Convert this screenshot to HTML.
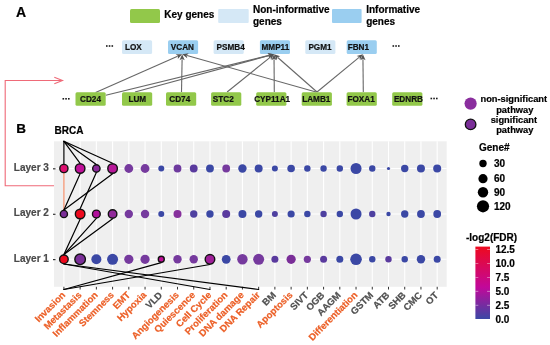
<!DOCTYPE html><html><head><meta charset="utf-8"><style>html,body{margin:0;padding:0;background:#fff;width:550px;height:345px;overflow:hidden}svg{display:block;will-change:transform}text{font-family:"Liberation Sans",sans-serif;font-weight:bold;stroke-width:0.2px}</style></head><body>
<svg width="550" height="345" viewBox="0 0 550 345">
<rect x="0" y="0" width="550" height="345" fill="#fff"/>
<text x="16" y="17" font-size="14" fill="#000" stroke="#000">A</text>
<rect x="130" y="9" width="30" height="14" rx="1.5" fill="#92C84A"/>
<text x="164.3" y="17.6" font-size="10" fill="#000" stroke="#000">Key genes</text>
<rect x="218.2" y="9" width="30.5" height="14" rx="1" fill="#D5E8F6"/>
<text x="253" y="13.1" font-size="10" fill="#000" stroke="#000">Non-informative</text>
<text x="253" y="24.8" font-size="10" fill="#000" stroke="#000">genes</text>
<rect x="332" y="9" width="29.6" height="14" rx="1" fill="#9ACEF0"/>
<text x="366.2" y="13.1" font-size="10" fill="#000" stroke="#000">Informative</text>
<text x="366.2" y="24.8" font-size="10" fill="#000" stroke="#000">genes</text>
<rect x="122" y="40.2" width="30.1" height="13.7" rx="1.5" fill="#D5E8F6"/>
<text x="125.00" y="49.7" font-size="8.2" fill="#111" stroke="#111">LOX</text>
<rect x="168" y="40.2" width="30.1" height="13.7" rx="1.5" fill="#9ACEF0"/>
<text x="170.80" y="49.7" font-size="8.2" fill="#111" stroke="#111">VCAN</text>
<rect x="213.6" y="40.2" width="30.1" height="13.7" rx="1.5" fill="#D5E8F6"/>
<text x="216.50" y="49.7" font-size="8.2" fill="#111" stroke="#111">PSMB4</text>
<rect x="259.9" y="40.2" width="30.1" height="13.7" rx="1.5" fill="#9ACEF0"/>
<text x="261.50" y="49.7" font-size="8.2" fill="#111" stroke="#111">MMP11</text>
<rect x="305.3" y="40.2" width="30.1" height="13.7" rx="1.5" fill="#D5E8F6"/>
<text x="308.40" y="49.7" font-size="8.2" fill="#111" stroke="#111">PGM1</text>
<rect x="346.7" y="40.2" width="30.1" height="13.7" rx="1.5" fill="#9ACEF0"/>
<text x="347.70" y="49.7" font-size="8.2" fill="#111" stroke="#111">FBN1</text>
<rect x="106.00" y="45.2" width="1.6" height="1.6" fill="#1a1a1a"/>
<rect x="108.75" y="45.2" width="1.6" height="1.6" fill="#1a1a1a"/>
<rect x="111.50" y="45.2" width="1.6" height="1.6" fill="#1a1a1a"/>
<rect x="392.50" y="45.2" width="1.6" height="1.6" fill="#1a1a1a"/>
<rect x="395.25" y="45.2" width="1.6" height="1.6" fill="#1a1a1a"/>
<rect x="398.00" y="45.2" width="1.6" height="1.6" fill="#1a1a1a"/>
<line x1="95.6" y1="92.4" x2="177.63" y2="56.22" stroke="#676767" stroke-width="1.1"/>
<path d="M182.20,54.20 L177.76,59.00 L178.08,56.02 L175.66,54.24 Z" fill="#555"/>
<line x1="105.8" y1="95.2" x2="269.14" y2="55.38" stroke="#676767" stroke-width="1.1"/>
<path d="M274.00,54.20 L268.79,58.15 L269.63,55.27 L267.55,53.09 Z" fill="#555"/>
<line x1="135" y1="92" x2="269.18" y2="55.51" stroke="#676767" stroke-width="1.1"/>
<path d="M274.00,54.20 L268.89,58.28 L269.66,55.38 L267.53,53.27 Z" fill="#555"/>
<line x1="181.5" y1="92" x2="182.11" y2="59.20" stroke="#676767" stroke-width="1.1"/>
<path d="M182.20,54.20 L184.69,60.25 L182.12,58.70 L179.49,60.15 Z" fill="#555"/>
<line x1="227.1" y1="92" x2="270.11" y2="57.34" stroke="#676767" stroke-width="1.1"/>
<path d="M274.00,54.20 L270.96,59.99 L270.50,57.02 L267.70,55.94 Z" fill="#555"/>
<line x1="274.3" y1="92" x2="274.04" y2="59.20" stroke="#676767" stroke-width="1.1"/>
<path d="M274.00,54.20 L276.65,60.18 L274.04,58.70 L271.45,60.22 Z" fill="#555"/>
<line x1="316" y1="92" x2="187.01" y2="55.56" stroke="#676767" stroke-width="1.1"/>
<path d="M182.20,54.20 L188.68,53.33 L186.53,55.42 L187.27,58.33 Z" fill="#555"/>
<line x1="317" y1="92" x2="277.76" y2="57.50" stroke="#676767" stroke-width="1.1"/>
<path d="M274.00,54.20 L280.22,56.21 L277.38,57.17 L276.79,60.11 Z" fill="#555"/>
<line x1="317" y1="92" x2="359.04" y2="57.38" stroke="#676767" stroke-width="1.1"/>
<path d="M362.90,54.20 L359.92,60.02 L359.43,57.06 L356.62,56.01 Z" fill="#555"/>
<line x1="363.3" y1="92" x2="362.95" y2="59.20" stroke="#676767" stroke-width="1.1"/>
<path d="M362.90,54.20 L365.56,60.17 L362.95,58.70 L360.36,60.23 Z" fill="#555"/>
<rect x="75.5" y="92.2" width="30.2" height="13.6" rx="1.5" fill="#92C84A"/>
<text x="80.00" y="101.8" font-size="8.2" fill="#111" stroke="#111">CD24</text>
<rect x="122" y="92.2" width="30.2" height="13.6" rx="1.5" fill="#92C84A"/>
<text x="128.40" y="101.8" font-size="8.2" fill="#111" stroke="#111">LUM</text>
<rect x="166" y="92.2" width="30.2" height="13.6" rx="1.5" fill="#92C84A"/>
<text x="169.30" y="101.8" font-size="8.2" fill="#111" stroke="#111">CD74</text>
<rect x="211.1" y="92.2" width="30.2" height="13.6" rx="1.5" fill="#92C84A"/>
<text x="212.80" y="101.8" font-size="8.2" fill="#111" stroke="#111">STC2</text>
<rect x="256.2" y="92.2" width="30.2" height="13.6" rx="1.5" fill="#92C84A"/>
<text x="254.20" y="101.8" font-size="8.2" fill="#111" stroke="#111">CYP11A1</text>
<rect x="301.7" y="92.2" width="30.2" height="13.6" rx="1.5" fill="#92C84A"/>
<text x="302.20" y="101.8" font-size="8.2" fill="#111" stroke="#111">LAMB1</text>
<rect x="346.6" y="92.2" width="30.2" height="13.6" rx="1.5" fill="#92C84A"/>
<text x="347.50" y="101.8" font-size="8.2" fill="#111" stroke="#111">FOXA1</text>
<rect x="392.2" y="92.2" width="30.2" height="13.6" rx="1.5" fill="#92C84A"/>
<text x="393.90" y="101.8" font-size="8.2" fill="#111" stroke="#111">EDNRB</text>
<rect x="62.50" y="98.0" width="1.6" height="1.6" fill="#1a1a1a"/>
<rect x="65.25" y="98.0" width="1.6" height="1.6" fill="#1a1a1a"/>
<rect x="68.00" y="98.0" width="1.6" height="1.6" fill="#1a1a1a"/>
<rect x="430.50" y="97.7" width="1.6" height="1.6" fill="#1a1a1a"/>
<rect x="433.25" y="97.7" width="1.6" height="1.6" fill="#1a1a1a"/>
<rect x="436.00" y="97.7" width="1.6" height="1.6" fill="#1a1a1a"/>
<path d="M62.5,80.5 L5.2,80.5 L5.2,185.8 L64,185.8" fill="none" stroke="#EF6A78" stroke-width="1.1"/>
<path d="M54.3,77.3 L62.5,80.5 L54.3,83.7" fill="none" stroke="#EF6A78" stroke-width="1.1"/>
<text x="16.3" y="133" font-size="13.5" fill="#000" stroke="#000">B</text>
<text x="54.5" y="133.5" font-size="10" fill="#000" stroke="#000">BRCA</text>
<rect x="54.0" y="141.3" width="392.7" height="145.5" fill="#EFEFEF"/>
<line x1="63.90" y1="141.3" x2="63.90" y2="286.8" stroke="#fff" stroke-width="1.1"/>
<line x1="80.13" y1="141.3" x2="80.13" y2="286.8" stroke="#fff" stroke-width="1.1"/>
<line x1="96.36" y1="141.3" x2="96.36" y2="286.8" stroke="#fff" stroke-width="1.1"/>
<line x1="112.59" y1="141.3" x2="112.59" y2="286.8" stroke="#fff" stroke-width="1.1"/>
<line x1="128.82" y1="141.3" x2="128.82" y2="286.8" stroke="#fff" stroke-width="1.1"/>
<line x1="145.05" y1="141.3" x2="145.05" y2="286.8" stroke="#fff" stroke-width="1.1"/>
<line x1="161.28" y1="141.3" x2="161.28" y2="286.8" stroke="#fff" stroke-width="1.1"/>
<line x1="177.51" y1="141.3" x2="177.51" y2="286.8" stroke="#fff" stroke-width="1.1"/>
<line x1="193.74" y1="141.3" x2="193.74" y2="286.8" stroke="#fff" stroke-width="1.1"/>
<line x1="209.97" y1="141.3" x2="209.97" y2="286.8" stroke="#fff" stroke-width="1.1"/>
<line x1="226.20" y1="141.3" x2="226.20" y2="286.8" stroke="#fff" stroke-width="1.1"/>
<line x1="242.43" y1="141.3" x2="242.43" y2="286.8" stroke="#fff" stroke-width="1.1"/>
<line x1="258.66" y1="141.3" x2="258.66" y2="286.8" stroke="#fff" stroke-width="1.1"/>
<line x1="274.89" y1="141.3" x2="274.89" y2="286.8" stroke="#fff" stroke-width="1.1"/>
<line x1="291.12" y1="141.3" x2="291.12" y2="286.8" stroke="#fff" stroke-width="1.1"/>
<line x1="307.35" y1="141.3" x2="307.35" y2="286.8" stroke="#fff" stroke-width="1.1"/>
<line x1="323.58" y1="141.3" x2="323.58" y2="286.8" stroke="#fff" stroke-width="1.1"/>
<line x1="339.81" y1="141.3" x2="339.81" y2="286.8" stroke="#fff" stroke-width="1.1"/>
<line x1="356.04" y1="141.3" x2="356.04" y2="286.8" stroke="#fff" stroke-width="1.1"/>
<line x1="372.27" y1="141.3" x2="372.27" y2="286.8" stroke="#fff" stroke-width="1.1"/>
<line x1="388.50" y1="141.3" x2="388.50" y2="286.8" stroke="#fff" stroke-width="1.1"/>
<line x1="404.73" y1="141.3" x2="404.73" y2="286.8" stroke="#fff" stroke-width="1.1"/>
<line x1="420.96" y1="141.3" x2="420.96" y2="286.8" stroke="#fff" stroke-width="1.1"/>
<line x1="437.19" y1="141.3" x2="437.19" y2="286.8" stroke="#fff" stroke-width="1.1"/>
<line x1="54.0" y1="168.5" x2="446.7" y2="168.5" stroke="#fff" stroke-width="1.1"/>
<line x1="54.0" y1="214.0" x2="446.7" y2="214.0" stroke="#fff" stroke-width="1.1"/>
<line x1="54.0" y1="259.3" x2="446.7" y2="259.3" stroke="#fff" stroke-width="1.1"/>
<text x="48.9" y="170.9" font-size="10" text-anchor="end" fill="#4A4A4A" stroke="#4A4A4A" stroke-width="0.1">Layer 3</text>
<line x1="53" y1="168.8" x2="55.5" y2="168.8" stroke="#333" stroke-width="1.2"/>
<text x="48.9" y="216.4" font-size="10" text-anchor="end" fill="#4A4A4A" stroke="#4A4A4A" stroke-width="0.1">Layer 2</text>
<line x1="53" y1="214.3" x2="55.5" y2="214.3" stroke="#333" stroke-width="1.2"/>
<text x="48.9" y="261.7" font-size="10" text-anchor="end" fill="#4A4A4A" stroke="#4A4A4A" stroke-width="0.1">Layer 1</text>
<line x1="53" y1="259.6" x2="55.5" y2="259.6" stroke="#333" stroke-width="1.2"/>
<line x1="63.90" y1="286.8" x2="63.90" y2="289.5" stroke="#333" stroke-width="1"/>
<line x1="80.13" y1="286.8" x2="80.13" y2="289.5" stroke="#333" stroke-width="1"/>
<line x1="96.36" y1="286.8" x2="96.36" y2="289.5" stroke="#333" stroke-width="1"/>
<line x1="112.59" y1="286.8" x2="112.59" y2="289.5" stroke="#333" stroke-width="1"/>
<line x1="128.82" y1="286.8" x2="128.82" y2="289.5" stroke="#333" stroke-width="1"/>
<line x1="145.05" y1="286.8" x2="145.05" y2="289.5" stroke="#333" stroke-width="1"/>
<line x1="161.28" y1="286.8" x2="161.28" y2="289.5" stroke="#333" stroke-width="1"/>
<line x1="177.51" y1="286.8" x2="177.51" y2="289.5" stroke="#333" stroke-width="1"/>
<line x1="193.74" y1="286.8" x2="193.74" y2="289.5" stroke="#333" stroke-width="1"/>
<line x1="209.97" y1="286.8" x2="209.97" y2="289.5" stroke="#333" stroke-width="1"/>
<line x1="226.20" y1="286.8" x2="226.20" y2="289.5" stroke="#333" stroke-width="1"/>
<line x1="242.43" y1="286.8" x2="242.43" y2="289.5" stroke="#333" stroke-width="1"/>
<line x1="258.66" y1="286.8" x2="258.66" y2="289.5" stroke="#333" stroke-width="1"/>
<line x1="274.89" y1="286.8" x2="274.89" y2="289.5" stroke="#333" stroke-width="1"/>
<line x1="291.12" y1="286.8" x2="291.12" y2="289.5" stroke="#333" stroke-width="1"/>
<line x1="307.35" y1="286.8" x2="307.35" y2="289.5" stroke="#333" stroke-width="1"/>
<line x1="323.58" y1="286.8" x2="323.58" y2="289.5" stroke="#333" stroke-width="1"/>
<line x1="339.81" y1="286.8" x2="339.81" y2="289.5" stroke="#333" stroke-width="1"/>
<line x1="356.04" y1="286.8" x2="356.04" y2="289.5" stroke="#333" stroke-width="1"/>
<line x1="372.27" y1="286.8" x2="372.27" y2="289.5" stroke="#333" stroke-width="1"/>
<line x1="388.50" y1="286.8" x2="388.50" y2="289.5" stroke="#333" stroke-width="1"/>
<line x1="404.73" y1="286.8" x2="404.73" y2="289.5" stroke="#333" stroke-width="1"/>
<line x1="420.96" y1="286.8" x2="420.96" y2="289.5" stroke="#333" stroke-width="1"/>
<line x1="437.19" y1="286.8" x2="437.19" y2="289.5" stroke="#333" stroke-width="1"/>
<line x1="63.9" y1="168.5" x2="63.9" y2="214.0" stroke="#F39C7C" stroke-width="1.4"/>
<line x1="63.90" y1="141.30" x2="63.90" y2="164.00" stroke="#000" stroke-width="1.2" stroke-linecap="round"/>
<line x1="63.90" y1="141.30" x2="80.13" y2="163.30" stroke="#000" stroke-width="1.2" stroke-linecap="round"/>
<line x1="63.90" y1="141.30" x2="96.36" y2="164.40" stroke="#000" stroke-width="1.2" stroke-linecap="round"/>
<line x1="63.90" y1="141.30" x2="112.59" y2="163.30" stroke="#000" stroke-width="1.2" stroke-linecap="round"/>
<line x1="80.13" y1="173.70" x2="63.90" y2="210.00" stroke="#000" stroke-width="1.2" stroke-linecap="round"/>
<line x1="96.36" y1="172.60" x2="80.13" y2="208.80" stroke="#000" stroke-width="1.2" stroke-linecap="round"/>
<line x1="112.59" y1="173.70" x2="63.90" y2="210.00" stroke="#000" stroke-width="1.2" stroke-linecap="round"/>
<line x1="63.90" y1="254.60" x2="80.13" y2="219.20" stroke="#000" stroke-width="1.2" stroke-linecap="round"/>
<line x1="63.90" y1="254.60" x2="96.36" y2="218.30" stroke="#000" stroke-width="1.2" stroke-linecap="round"/>
<line x1="63.90" y1="254.60" x2="112.59" y2="218.70" stroke="#000" stroke-width="1.2" stroke-linecap="round"/>
<line x1="63.90" y1="264.00" x2="209.97" y2="289.50" stroke="#000" stroke-width="1.2" stroke-linecap="round"/>
<line x1="63.90" y1="264.00" x2="258.66" y2="289.50" stroke="#000" stroke-width="1.2" stroke-linecap="round"/>
<line x1="63.90" y1="289.50" x2="161.28" y2="262.70" stroke="#000" stroke-width="1.2" stroke-linecap="round"/>
<line x1="63.90" y1="289.50" x2="209.97" y2="264.50" stroke="#000" stroke-width="1.2" stroke-linecap="round"/>
<circle cx="63.90" cy="168.5" r="4.10" fill="#DD1070" stroke="#111" stroke-width="1.4"/>
<circle cx="80.13" cy="168.5" r="4.80" fill="#C0109A" stroke="#111" stroke-width="1.4"/>
<circle cx="96.36" cy="168.5" r="3.70" fill="#8A2A9A" stroke="#111" stroke-width="1.4"/>
<circle cx="112.59" cy="168.5" r="4.80" fill="#B8189A" stroke="#111" stroke-width="1.4"/>
<circle cx="128.82" cy="168.5" r="4.40" fill="#763A9E"/>
<circle cx="145.05" cy="168.5" r="4.40" fill="#763A9E"/>
<circle cx="161.28" cy="168.5" r="3.00" fill="#3B48A5"/>
<circle cx="177.51" cy="168.5" r="3.90" fill="#6E3A9E"/>
<circle cx="193.74" cy="168.5" r="3.90" fill="#5A3A9E"/>
<circle cx="209.97" cy="168.5" r="3.90" fill="#3B48A5"/>
<circle cx="226.20" cy="168.5" r="3.90" fill="#763A9E"/>
<circle cx="242.43" cy="168.5" r="4.20" fill="#3B48A5"/>
<circle cx="258.66" cy="168.5" r="4.00" fill="#3B48A5"/>
<circle cx="274.89" cy="168.5" r="3.00" fill="#3B48A5"/>
<circle cx="291.12" cy="168.5" r="3.80" fill="#3B48A5"/>
<circle cx="307.35" cy="168.5" r="3.20" fill="#3B48A5"/>
<circle cx="323.58" cy="168.5" r="3.20" fill="#3B48A5"/>
<circle cx="339.81" cy="168.5" r="3.20" fill="#3B48A5"/>
<circle cx="356.04" cy="168.5" r="5.50" fill="#3B48A5"/>
<circle cx="372.27" cy="168.5" r="3.20" fill="#3B48A5"/>
<circle cx="388.50" cy="168.5" r="1.60" fill="#3B48A5"/>
<circle cx="404.73" cy="168.5" r="3.70" fill="#3B48A5"/>
<circle cx="420.96" cy="168.5" r="4.00" fill="#3B48A5"/>
<circle cx="437.19" cy="168.5" r="4.00" fill="#3B48A5"/>
<circle cx="63.90" cy="214.0" r="3.60" fill="#7A2E98" stroke="#111" stroke-width="1.4"/>
<circle cx="80.13" cy="214.0" r="4.80" fill="#EE0A1E" stroke="#111" stroke-width="1.4"/>
<circle cx="96.36" cy="214.0" r="3.90" fill="#B0109A" stroke="#111" stroke-width="1.4"/>
<circle cx="112.59" cy="214.0" r="4.30" fill="#902A9A" stroke="#111" stroke-width="1.4"/>
<circle cx="128.82" cy="214.0" r="4.20" fill="#763A9E"/>
<circle cx="145.05" cy="214.0" r="4.20" fill="#763A9E"/>
<circle cx="161.28" cy="214.0" r="3.00" fill="#3B48A5"/>
<circle cx="177.51" cy="214.0" r="4.00" fill="#86309C"/>
<circle cx="193.74" cy="214.0" r="3.70" fill="#4E40A0"/>
<circle cx="209.97" cy="214.0" r="3.70" fill="#3B48A5"/>
<circle cx="226.20" cy="214.0" r="4.00" fill="#5A3A9E"/>
<circle cx="242.43" cy="214.0" r="4.00" fill="#3B48A5"/>
<circle cx="258.66" cy="214.0" r="3.70" fill="#3B48A5"/>
<circle cx="274.89" cy="214.0" r="3.00" fill="#4E40A0"/>
<circle cx="291.12" cy="214.0" r="3.60" fill="#3B48A5"/>
<circle cx="307.35" cy="214.0" r="3.20" fill="#3B48A5"/>
<circle cx="323.58" cy="214.0" r="3.20" fill="#4E40A0"/>
<circle cx="339.81" cy="214.0" r="3.20" fill="#3B48A5"/>
<circle cx="356.04" cy="214.0" r="5.50" fill="#3B48A5"/>
<circle cx="372.27" cy="214.0" r="3.20" fill="#4E40A0"/>
<circle cx="388.50" cy="214.0" r="2.20" fill="#3B48A5"/>
<circle cx="404.73" cy="214.0" r="3.70" fill="#3B48A5"/>
<circle cx="420.96" cy="214.0" r="3.90" fill="#3B48A5"/>
<circle cx="437.19" cy="214.0" r="3.90" fill="#3B48A5"/>
<circle cx="63.90" cy="259.3" r="4.30" fill="#EE0A1E" stroke="#111" stroke-width="1.4"/>
<circle cx="80.13" cy="259.3" r="5.30" fill="#7A2E98" stroke="#111" stroke-width="1.4"/>
<circle cx="96.36" cy="259.3" r="5.00" fill="#3B48A5"/>
<circle cx="112.59" cy="259.3" r="5.50" fill="#3B48A5"/>
<circle cx="128.82" cy="259.3" r="4.60" fill="#763A9E"/>
<circle cx="145.05" cy="259.3" r="4.60" fill="#763A9E"/>
<circle cx="161.28" cy="259.3" r="3.00" fill="#C0109A" stroke="#111" stroke-width="1.4"/>
<circle cx="177.51" cy="259.3" r="4.20" fill="#763A9E"/>
<circle cx="193.74" cy="259.3" r="4.20" fill="#763A9E"/>
<circle cx="209.97" cy="259.3" r="4.80" fill="#A0209A" stroke="#111" stroke-width="1.4"/>
<circle cx="226.20" cy="259.3" r="4.40" fill="#3B48A5"/>
<circle cx="242.43" cy="259.3" r="5.20" fill="#763A9E"/>
<circle cx="258.66" cy="259.3" r="5.50" fill="#763A9E"/>
<circle cx="274.89" cy="259.3" r="3.50" fill="#5A3A9E"/>
<circle cx="291.12" cy="259.3" r="4.60" fill="#7A2E98"/>
<circle cx="307.35" cy="259.3" r="3.60" fill="#763A9E"/>
<circle cx="323.58" cy="259.3" r="3.50" fill="#5A3A9E"/>
<circle cx="339.81" cy="259.3" r="3.50" fill="#3B48A5"/>
<circle cx="356.04" cy="259.3" r="5.80" fill="#3B48A5"/>
<circle cx="372.27" cy="259.3" r="3.20" fill="#3B48A5"/>
<circle cx="388.50" cy="259.3" r="3.20" fill="#5A3A9E"/>
<circle cx="404.73" cy="259.3" r="3.20" fill="#3B48A5"/>
<circle cx="420.96" cy="259.3" r="4.20" fill="#3B48A5"/>
<circle cx="437.19" cy="259.3" r="3.50" fill="#3B48A5"/>
<text transform="translate(65.90,295.6) rotate(-45)" font-size="9.5" text-anchor="end" fill="#EC5F26" stroke="#EC5F26">Invasion</text>
<text transform="translate(82.13,295.6) rotate(-45)" font-size="9.5" text-anchor="end" fill="#EC5F26" stroke="#EC5F26">Metastasis</text>
<text transform="translate(98.36,295.6) rotate(-45)" font-size="9.5" text-anchor="end" fill="#EC5F26" stroke="#EC5F26">Inflammation</text>
<text transform="translate(114.59,295.6) rotate(-45)" font-size="9.5" text-anchor="end" fill="#EC5F26" stroke="#EC5F26">Stemness</text>
<text transform="translate(130.82,295.6) rotate(-45)" font-size="9.5" text-anchor="end" fill="#EC5F26" stroke="#EC5F26">EMT</text>
<text transform="translate(147.05,295.6) rotate(-45)" font-size="9.5" text-anchor="end" fill="#EC5F26" stroke="#EC5F26">Hypoxia</text>
<text transform="translate(162.88,295.9) rotate(-45)" font-size="9.5" text-anchor="end" fill="#505050" stroke="#505050" stroke-width="0.1">VLD</text>
<text transform="translate(179.51,295.6) rotate(-45)" font-size="9.5" text-anchor="end" fill="#EC5F26" stroke="#EC5F26">Angiogenesis</text>
<text transform="translate(195.74,295.6) rotate(-45)" font-size="9.5" text-anchor="end" fill="#EC5F26" stroke="#EC5F26">Quiescence</text>
<text transform="translate(211.97,295.6) rotate(-45)" font-size="9.5" text-anchor="end" fill="#EC5F26" stroke="#EC5F26">Cell Cycle</text>
<text transform="translate(228.20,295.6) rotate(-45)" font-size="9.5" text-anchor="end" fill="#EC5F26" stroke="#EC5F26">Proliferation</text>
<text transform="translate(244.43,295.6) rotate(-45)" font-size="9.5" text-anchor="end" fill="#EC5F26" stroke="#EC5F26">DNA damage</text>
<text transform="translate(260.66,295.6) rotate(-45)" font-size="9.5" text-anchor="end" fill="#EC5F26" stroke="#EC5F26">DNA Repair</text>
<text transform="translate(276.49,295.9) rotate(-45)" font-size="9.5" text-anchor="end" fill="#505050" stroke="#505050" stroke-width="0.1">BM</text>
<text transform="translate(293.12,295.6) rotate(-45)" font-size="9.5" text-anchor="end" fill="#EC5F26" stroke="#EC5F26">Apoptosis</text>
<text transform="translate(308.95,295.9) rotate(-45)" font-size="9.5" text-anchor="end" fill="#505050" stroke="#505050" stroke-width="0.1">SIVT</text>
<text transform="translate(325.18,295.9) rotate(-45)" font-size="9.5" text-anchor="end" fill="#505050" stroke="#505050" stroke-width="0.1">OGB</text>
<text transform="translate(341.41,295.9) rotate(-45)" font-size="9.5" text-anchor="end" fill="#505050" stroke="#505050" stroke-width="0.1">AAGM</text>
<text transform="translate(358.04,295.6) rotate(-45)" font-size="9.5" text-anchor="end" fill="#EC5F26" stroke="#EC5F26">Differentiation</text>
<text transform="translate(373.87,295.9) rotate(-45)" font-size="9.5" text-anchor="end" fill="#505050" stroke="#505050" stroke-width="0.1">GSTM</text>
<text transform="translate(390.10,295.9) rotate(-45)" font-size="9.5" text-anchor="end" fill="#505050" stroke="#505050" stroke-width="0.1">ATB</text>
<text transform="translate(406.33,295.9) rotate(-45)" font-size="9.5" text-anchor="end" fill="#505050" stroke="#505050" stroke-width="0.1">SHB</text>
<text transform="translate(422.56,295.9) rotate(-45)" font-size="9.5" text-anchor="end" fill="#505050" stroke="#505050" stroke-width="0.1">CMC</text>
<text transform="translate(438.79,295.9) rotate(-45)" font-size="9.5" text-anchor="end" fill="#505050" stroke="#505050" stroke-width="0.1">OT</text>
<circle cx="470.6" cy="103.6" r="6.1" fill="#8A2E9E"/>
<text x="513.8" y="101.8" font-size="9.3" text-anchor="middle" fill="#000" stroke="#000">non-significant</text>
<text x="514.8" y="112.9" font-size="9.3" text-anchor="middle" fill="#000" stroke="#000">pathway</text>
<circle cx="470.6" cy="124.4" r="5.3" fill="#7A2E98" stroke="#111" stroke-width="1.3"/>
<text x="513.9" y="122.7" font-size="9.3" text-anchor="middle" fill="#000" stroke="#000">significant</text>
<text x="514.8" y="133.4" font-size="9.3" text-anchor="middle" fill="#000" stroke="#000">pathway</text>
<text x="479" y="151.3" font-size="10" fill="#000" stroke="#000">Gene#</text>
<circle cx="483" cy="163.5" r="3.7" fill="#000"/>
<text x="494" y="167.1" font-size="10" fill="#000" stroke="#000">30</text>
<circle cx="483" cy="178.7" r="4.6" fill="#000"/>
<text x="494" y="182.29999999999998" font-size="10" fill="#000" stroke="#000">60</text>
<circle cx="483" cy="192.2" r="5.2" fill="#000"/>
<text x="494" y="195.79999999999998" font-size="10" fill="#000" stroke="#000">90</text>
<circle cx="483" cy="206.3" r="6.1" fill="#000"/>
<text x="494" y="209.9" font-size="10" fill="#000" stroke="#000">120</text>
<text x="466" y="241.2" font-size="10" fill="#000" stroke="#000">-log2(FDR)</text>
<defs><linearGradient id="g" x1="0" y1="0" x2="0" y2="1"><stop offset="0" stop-color="#EE0A1E"/><stop offset="0.56" stop-color="#C2089A"/><stop offset="1" stop-color="#3B48A5"/></linearGradient></defs>
<rect x="475.4" y="246.6" width="14.6" height="72.4" fill="url(#g)"/>
<line x1="475.4" y1="249.50" x2="478.3" y2="249.50" stroke="#fff" stroke-width="0.8" opacity="0.55"/>
<line x1="487.1" y1="249.50" x2="490" y2="249.50" stroke="#fff" stroke-width="0.8" opacity="0.55"/>
<text x="495.4" y="253.10" font-size="10" fill="#000" stroke="#000">12.5</text>
<line x1="475.4" y1="263.45" x2="478.3" y2="263.45" stroke="#fff" stroke-width="0.8" opacity="0.55"/>
<line x1="487.1" y1="263.45" x2="490" y2="263.45" stroke="#fff" stroke-width="0.8" opacity="0.55"/>
<text x="495.4" y="267.05" font-size="10" fill="#000" stroke="#000">10.0</text>
<line x1="475.4" y1="277.40" x2="478.3" y2="277.40" stroke="#fff" stroke-width="0.8" opacity="0.55"/>
<line x1="487.1" y1="277.40" x2="490" y2="277.40" stroke="#fff" stroke-width="0.8" opacity="0.55"/>
<text x="495.4" y="281.00" font-size="10" fill="#000" stroke="#000">7.5</text>
<line x1="475.4" y1="291.35" x2="478.3" y2="291.35" stroke="#fff" stroke-width="0.8" opacity="0.55"/>
<line x1="487.1" y1="291.35" x2="490" y2="291.35" stroke="#fff" stroke-width="0.8" opacity="0.55"/>
<text x="495.4" y="294.95" font-size="10" fill="#000" stroke="#000">5.0</text>
<line x1="475.4" y1="305.30" x2="478.3" y2="305.30" stroke="#fff" stroke-width="0.8" opacity="0.55"/>
<line x1="487.1" y1="305.30" x2="490" y2="305.30" stroke="#fff" stroke-width="0.8" opacity="0.55"/>
<text x="495.4" y="308.90" font-size="10" fill="#000" stroke="#000">2.5</text>
<text x="495.4" y="322.85" font-size="10" fill="#000" stroke="#000">0.0</text>
</svg></body></html>
